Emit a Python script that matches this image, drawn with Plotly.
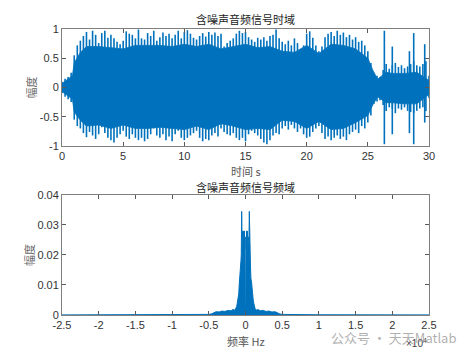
import plotly.graph_objects as go

# ---------------- data ----------------
# Peak envelope of the noisy audio signal, sampled every 0.25 s (0 .. 30 s)
time_step_s = 0.25
env_upper = [
    0.10, 0.15, 0.18, 0.25, 0.55, 0.72, 0.80, 0.88, 0.95, 0.82, 0.97, 0.90,
    0.76, 0.93, 0.97, 0.85, 0.90, 0.84, 0.78, 0.74, 0.80, 0.96, 0.92, 0.90,
    0.84, 0.99, 0.84, 0.82, 0.93, 0.88, 0.97, 0.80, 0.86, 0.94, 0.88, 0.92,
    0.84, 0.90, 0.97, 0.84, 0.95, 0.98, 0.92, 0.85, 0.82, 0.88, 0.93, 0.87,
    0.95, 0.90, 0.94, 0.88, 0.92, 0.70, 0.76, 0.80, 0.84, 0.92, 0.97, 0.93,
    0.95, 0.86, 0.82, 0.78, 0.85, 0.82, 0.86, 0.80, 0.88, 0.90, 0.99, 0.84,
    0.78, 0.74, 0.80, 0.72, 0.84, 0.76, 0.66, 0.72, 0.92, 0.96, 0.85, 0.72,
    0.62, 0.70, 0.86, 0.92, 0.95, 0.88, 0.97, 0.90, 0.94, 0.86, 0.90, 0.82,
    0.86, 0.78, 0.80, 0.72, 0.62, 0.42, 0.24, 0.20, 0.18, 0.30, 0.40, 0.32,
    0.38, 0.42, 0.35, 0.38, 0.33, 0.36, 0.40, 0.45, 0.38, 0.36, 0.40, 0.45,
    0.20,
]
env_lower = [
    -0.10, -0.16, -0.20, -0.25, -0.55, -0.66, -0.70, -0.78, -0.85, -0.76, -0.82, -0.88,
    -0.80, -0.68, -0.78, -0.86, -0.90, -0.94, -0.86, -0.80, -0.74, -0.84, -0.88, -0.80,
    -0.86, -0.90, -0.86, -0.92, -0.88, -0.80, -0.70, -0.82, -0.86, -0.80, -0.90, -0.84,
    -0.92, -0.80, -0.74, -0.86, -0.90, -0.86, -0.82, -0.78, -0.74, -0.86, -0.92, -0.88,
    -0.90, -0.82, -0.78, -0.84, -0.70, -0.76, -0.80, -0.82, -0.78, -0.86, -0.90, -0.86,
    -0.92, -0.80, -0.74, -0.78, -0.82, -0.88, -0.94, -0.97, -0.90, -0.82, -0.78, -0.80,
    -0.70, -0.66, -0.72, -0.64, -0.70, -0.76, -0.70, -0.80, -0.86, -0.84, -0.76, -0.70,
    -0.66, -0.78, -0.88, -0.84, -0.90, -0.86, -0.82, -0.88, -0.84, -0.90, -0.80, -0.76,
    -0.72, -0.78, -0.66, -0.70, -0.60, -0.48, -0.28, -0.24, -0.22, -0.30, -0.40, -0.34,
    -0.36, -0.44, -0.36, -0.38, -0.34, -0.40, -0.42, -0.44, -0.40, -0.36, -0.34, -0.40,
    -0.18,
]
# Solid (dense) core of the waveform
core_time = [0, 0.5, 0.85, 1.0, 1.5, 2, 3, 4, 5, 6, 7, 8, 9, 10, 11, 12, 13, 14, 15,
             16, 17, 18, 19, 20, 21, 22, 23, 24, 25, 25.4, 25.8, 26.5, 27, 28, 29, 30]
core_upper = [0.07, 0.14, 0.20, 0.42, 0.60, 0.70, 0.70, 0.68, 0.66, 0.72, 0.72, 0.72,
              0.70, 0.74, 0.70, 0.74, 0.66, 0.70, 0.74, 0.68, 0.70, 0.62, 0.60, 0.72,
              0.58, 0.74, 0.72, 0.66, 0.50, 0.30, 0.14, 0.26, 0.24, 0.24, 0.26, 0.12]
core_lower = [-0.07, -0.14, -0.20, -0.42, -0.56, -0.66, -0.64, -0.70, -0.64, -0.70,
              -0.70, -0.68, -0.70, -0.72, -0.66, -0.72, -0.62, -0.66, -0.72, -0.70,
              -0.72, -0.56, -0.58, -0.70, -0.58, -0.72, -0.70, -0.60, -0.48, -0.30,
              -0.16, -0.26, -0.26, -0.28, -0.28, -0.12]
# isolated transients in the tail of the signal
spike_time = [26.35, 27.0, 28.4, 28.75, 29.65]
spike_high = [0.97, 0.70, 0.62, 0.93, 0.74]
spike_low = [-0.97, -0.80, -0.78, -0.97, -0.60]

# Magnitude spectrum (positive-frequency side, symmetric about 0 Hz)
freq_pos_hz = [0, 40, 70, 110, 150, 190, 230, 270, 310, 350, 390, 430, 470, 500, 520,
               550, 580, 620, 680, 740, 800, 860, 920, 980, 1050, 1120, 1200, 1300,
               1450, 1700, 2000, 2400, 2800, 3200, 3600, 4000, 4300, 4600, 5000,
               10000, 25000]
mag_pos = [0.0, 0.004, 0.026, 0.022, 0.028, 0.024, 0.028, 0.025, 0.027, 0.023,
           0.026, 0.028, 0.025, 0.030, 0.0345, 0.027, 0.020, 0.018, 0.016, 0.012,
           0.0115, 0.010, 0.007, 0.0065, 0.005, 0.004, 0.0028, 0.0022, 0.0016,
           0.0018, 0.0014, 0.0015, 0.0012, 0.0013, 0.0010, 0.0011, 0.0008, 0.0004,
           0.0002, 0.00008, 0.00004]

# tick labels
t_ticks = [0, 5, 10, 15, 20, 25, 30]
amp_ticks = [-1, -0.5, 0, 0.5, 1]
amp_ticktext = ["-1", "-0.5", "0", "0.5", "1"]
f_ticks_hz = [-25000, -20000, -15000, -10000, -5000, 0, 5000, 10000, 15000, 20000, 25000]
f_ticktext = ["-2.5", "-2", "-1.5", "-1", "-0.5", "0", "0.5", "1", "1.5", "2", "2.5"]
mag_ticks = [0, 0.01, 0.02, 0.03, 0.04]
mag_ticktext = ["0", "0.01", "0.02", "0.03", "0.04"]

title_top = "含噪声音频信号时域"
title_bottom = "含噪声音频信号频域"
xlabel_top = "时间 s"
xlabel_bottom = "频率 Hz"
ylabel = "幅度"
watermark = "公众号 · 天天Matlab"

# ---------------- build figure ----------------
BLUE = "#0072BD"
CJK = "Noto Sans CJK SC"
LAT = "Liberation Sans, Arial, sans-serif"

time_s = [i * time_step_s for i in range(len(env_upper))]

fig = go.Figure()

# dense core
fig.add_trace(go.Scatter(
    x=core_time + core_time[::-1], y=core_upper + core_lower[::-1],
    fill="toself", fillcolor=BLUE, mode="lines",
    line=dict(color=BLUE, width=0.8), xaxis="x", yaxis="y",
    hoverinfo="skip", showlegend=False))

# peak strokes
px_, py_ = [], []
for t, hi, lo in zip(time_s, env_upper, env_lower):
    px_ += [t, t, None]
    py_ += [lo, hi, None]
for t, hi, lo in zip(spike_time, spike_high, spike_low):
    px_ += [t, t, None]
    py_ += [lo, hi, None]
fig.add_trace(go.Scatter(x=px_, y=py_, mode="lines",
                         line=dict(color=BLUE, width=1.6),
                         xaxis="x", yaxis="y", showlegend=False, hoverinfo="skip"))

freq_hz = [-f for f in freq_pos_hz[::-1]] + freq_pos_hz[1:]
mag = mag_pos[::-1] + mag_pos[1:]
fig.add_trace(go.Scatter(x=freq_hz, y=mag, mode="lines", fill="tozeroy",
                         fillcolor=BLUE, line=dict(color=BLUE, width=1),
                         xaxis="x2", yaxis="y2", showlegend=False))

axis_common = dict(showline=True, linecolor="#7f7f7f", linewidth=1, mirror="ticks",
                   ticks="inside", ticklen=4, tickcolor="#5a5a5a", showgrid=False,
                   zeroline=False, tickfont=dict(family=LAT, size=11, color="#333333"))

# the page body adds an 8px offset; size/margins compensate so the axes land in place
fig.update_layout(
    width=466, height=347,
    margin=dict(l=54, r=45, t=21, b=40),
    paper_bgcolor="white", plot_bgcolor="white",
    xaxis=dict(domain=[0, 1], anchor="y", range=[0, 30], tickvals=t_ticks, **axis_common),
    yaxis=dict(domain=[0.591, 1], anchor="x", range=[-1, 1], tickvals=amp_ticks,
               ticktext=amp_ticktext, **axis_common),
    xaxis2=dict(domain=[0, 1], anchor="y2", range=[-25000, 25000], tickvals=f_ticks_hz,
                ticktext=f_ticktext, **axis_common),
    yaxis2=dict(domain=[0, 0.42], anchor="x2", range=[0, 0.04], tickvals=mag_ticks,
                ticktext=mag_ticktext, **axis_common),
    showlegend=False,
)

ann = []
ann.append(dict(text=title_top, x=0.5, y=1, xref="paper", yref="paper",
                xanchor="center", yanchor="bottom", yshift=0, showarrow=False,
                font=dict(family=CJK, size=11, color="#222222")))
ann.append(dict(text=title_bottom, x=0.5, y=0.42, xref="paper", yref="paper",
                xanchor="center", yanchor="bottom", yshift=-2, showarrow=False,
                font=dict(family=CJK, size=11, color="#222222")))
ann.append(dict(text=xlabel_top, x=0.5, y=0.591, xref="paper", yref="paper",
                xanchor="center", yanchor="top", yshift=-15, showarrow=False,
                font=dict(family=CJK, size=11, color="#555555")))
ann.append(dict(text=xlabel_bottom, x=0.5, y=0, xref="paper", yref="paper",
                xanchor="center", yanchor="top", yshift=-16, showarrow=False,
                font=dict(family=CJK, size=11, color="#555555")))
ann.append(dict(text=ylabel, x=0, y=0.7955, xref="paper", yref="paper",
                xanchor="center", yanchor="middle", xshift=-31, textangle=-90,
                showarrow=False, font=dict(family=CJK, size=11, color="#666666")))
ann.append(dict(text=ylabel, x=0, y=0.21, xref="paper", yref="paper",
                xanchor="center", yanchor="middle", xshift=-33, textangle=-90,
                showarrow=False, font=dict(family=CJK, size=11, color="#666666")))
ann.append(dict(text="×10<sup>4</sup>", x=1, y=0, xref="paper", yref="paper",
                xanchor="right", yanchor="top", yshift=-20, showarrow=False,
                font=dict(family=LAT, size=10, color="#444444")))
ann.append(dict(text=watermark, x=1, y=0, xref="paper", yref="paper",
                xanchor="right", yanchor="top", xshift=29, yshift=-11, showarrow=False,
                font=dict(family=CJK, size=13, color="rgba(150,150,150,0.75)")))
fig.update_layout(annotations=ann)

fig.write_html("out.html")
